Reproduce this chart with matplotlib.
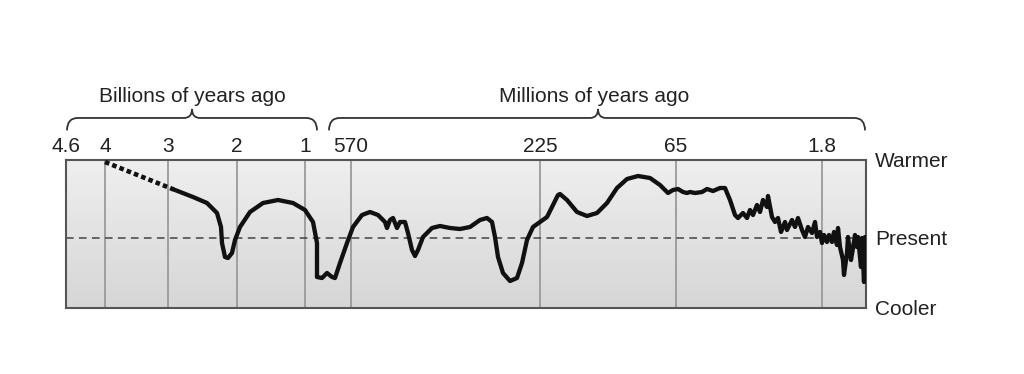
import numpy as np
import matplotlib
matplotlib.use('Agg')
import matplotlib.pyplot as plt
import matplotlib.transforms as mtransforms
from matplotlib.path import Path
from matplotlib.patches import PathPatch
from matplotlib.colors import LinearSegmentedColormap

plt.rcParams['font.family'] = ['Liberation Sans', 'DejaVu Sans']

# position along the (piecewise) time axis, 0 = 4.6 billion years ago
tick_pos = [0, 39, 102, 171, 239, 285, 474, 610, 756]
tick_labels = ['4.6', '4', '3', '2', '1', '570', '225', '65', '1.8']

# relative temperature index, 0 = present
early_x = [39, 109]
early_y = [76, 48]

temp_x = [109, 127, 141, 151, 155, 156, 159, 162, 166, 169, 174, 184, 197, 212, 227, 239, 247, 251,
          251, 256, 261, 266, 269, 274, 281, 287, 296, 304, 312, 319, 321, 324, 327, 331, 334, 339,
          342, 346, 349, 352, 357, 366, 374, 384, 394, 404, 414, 421, 426, 429, 432, 437, 444, 451,
          456, 461, 467, 474, 481, 486, 492, 494, 501, 511, 521, 531, 541, 551, 561, 572, 584, 594,
          602, 607, 612, 617, 621, 624, 629, 636, 641, 647, 654, 659, 664, 669, 672, 677, 681, 684,
          687, 691, 694, 697, 701, 702, 706, 709, 712, 715, 719, 721, 726, 729, 732, 736, 739, 742,
          746, 749, 751, 754, 756, 758, 761, 763, 766, 768, 771, 772, 774, 777, 778, 781, 782, 785,
          787, 789, 791, 792, 795, 796, 798, 799]
temp_y = [48, 41, 35, 25, 11, -5, -19, -20, -15, -2, 11, 26, 35, 38, 35, 28, 16, -5,
          -39, -40, -35, -39, -40, -25, -5, 11, 23, 26, 23, 16, 10, 18, 20, 10, 16, 16,
          5, -12, -18, -12, 1, 10, 12, 10, 9, 11, 18, 20, 16, 1, -19, -35, -43, -40,
          -25, -2, 11, 16, 21, 31, 43, 44, 38, 26, 22, 25, 35, 50, 59, 62, 60, 53,
          45, 48, 49, 46, 45, 46, 45, 46, 49, 47, 50, 50, 38, 23, 20, 25, 20, 28,
          23, 33, 26, 38, 31, 42, 21, 16, 20, 6, 16, 8, 18, 11, 20, 8, 1, 11,
          5, 16, 1, 6, -5, 3, -4, 3, -4, 6, -7, 10, -9, -22, -37, -15, 1, -22,
          -10, 3, -9, 1, -29, 0, -44, 1]

fig = plt.figure(figsize=(10.24, 3.74), dpi=100)
ax = fig.add_axes([66 / 1024, 66 / 374, 800 / 1024, 148 / 374])
ax.set_xlim(0, 800)
ax.set_ylim(-70, 78)

# light grey gradient background
bg = LinearSegmentedColormap.from_list('bg', ['#efefef', '#d6d6d6'])
grad = np.linspace(0, 1, 100).reshape(-1, 1)
ax.imshow(grad, extent=[0, 800, -70, 78], aspect='auto', cmap=bg,
          origin='upper', zorder=0)

for p in tick_pos[1:]:
    ax.axvline(p, color='#9a9a9a', lw=1.3, zorder=1)
ax.axhline(0, color='#444444', lw=1.1, ls=(0, (5, 3.5)), zorder=2)

ax.plot(early_x, early_y, color='#111111', lw=3.3, ls=(0, (1, 0.7)),
        dash_capstyle='butt', zorder=3)
ax.plot(temp_x, temp_y, color='#111111', lw=3.1, solid_joinstyle='round',
        solid_capstyle='round', zorder=3)

for s in ax.spines.values():
    s.set_color('#555555')
    s.set_linewidth(1.5)
ax.set_xticks([])
ax.set_yticks([])

trans = mtransforms.blended_transform_factory(ax.transData, ax.transAxes)
for p, lab in zip(tick_pos, tick_labels):
    ax.text(p, 1.054, lab, transform=trans, ha='center', va='baseline',
            fontsize=15, color='#222222')

ax.text(1.011, 0.99, 'Warmer', transform=ax.transAxes, ha='left', va='center',
        fontsize=15, color='#222222')
ax.text(1.011, 0.466, 'Present', transform=ax.transAxes, ha='left', va='center',
        fontsize=15, color='#222222')
ax.text(1.011, -0.01, 'Cooler', transform=ax.transAxes, ha='left', va='center',
        fontsize=15, color='#222222')


def brace(x0, x1, xm, y_end=1.2, y_h=1.284, y_tip=1.345, r=11, rt=8):
    verts = [(x0, y_end), (x0, y_h), (x0 + r, y_h),
             (xm - rt, y_h), (xm, y_h), (xm, y_tip),
             (xm, y_h), (xm + rt, y_h),
             (x1 - r, y_h), (x1, y_h), (x1, y_end)]
    codes = [Path.MOVETO, Path.CURVE3, Path.CURVE3,
             Path.LINETO, Path.CURVE3, Path.CURVE3,
             Path.CURVE3, Path.CURVE3,
             Path.LINETO, Path.CURVE3, Path.CURVE3]
    patch = PathPatch(Path(verts, codes), fill=False, ec='#333333', lw=1.3,
                      transform=trans, clip_on=False)
    ax.add_patch(patch)


brace(1, 251, 126)
brace(263, 799, 532)
ax.text(126, 1.392, 'Billions of years ago', transform=trans, ha='center',
        va='baseline', fontsize=15, color='#222222')
ax.text(528, 1.392, 'Millions of years ago', transform=trans, ha='center',
        va='baseline', fontsize=15, color='#222222')

fig.savefig('out.png', dpi=100, facecolor='white')
